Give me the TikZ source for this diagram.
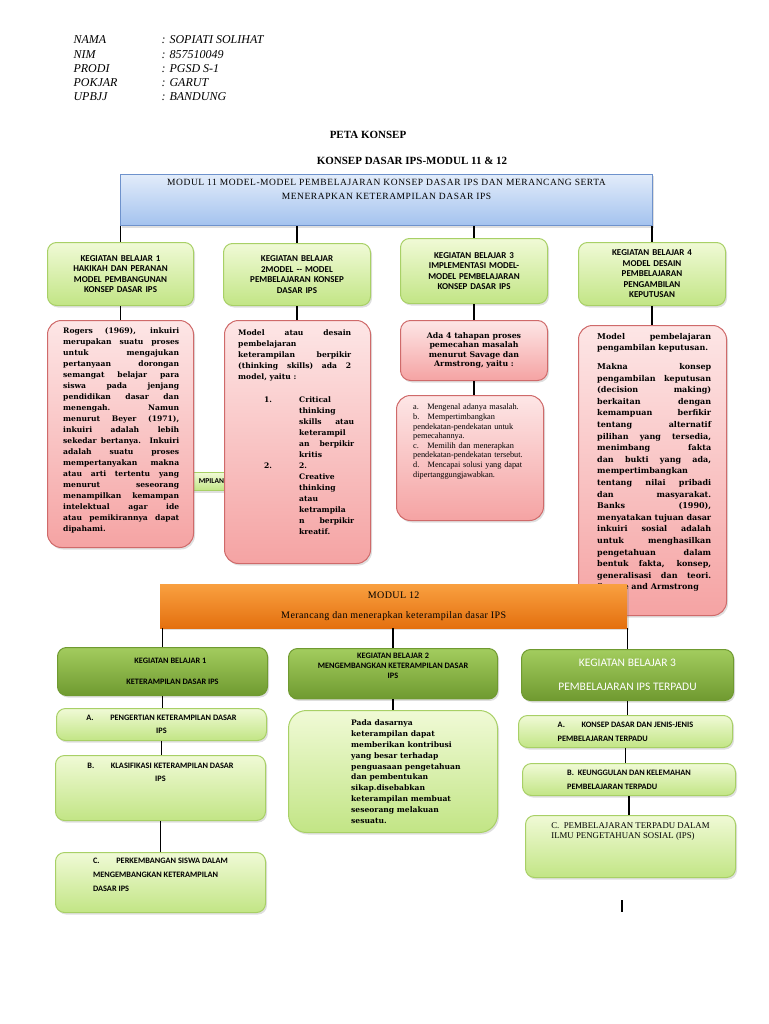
\documentclass[tikz,border=0pt]{standalone}
\usepackage{fontspec}
\setmainfont{Liberation Serif}
\newfontfamily\calfont{Carlito}
\newfontfamily\djv{DejaVu Serif}
\usetikzlibrary{shadows}
\hyphenpenalty=10000 \tolerance=10000 \emergencystretch=20pt
\definecolor{gtop}{HTML}{F0FAD6}\definecolor{gbot}{HTML}{C2E585}\definecolor{gbd}{HTML}{A8D066}
\definecolor{rtop}{HTML}{FDE6E6}\definecolor{rbot}{HTML}{F5A3A3}\definecolor{rbd}{HTML}{CF6A6A}
\definecolor{btop}{HTML}{E2ECFA}\definecolor{bbot}{HTML}{A3C2EE}\definecolor{bbd}{HTML}{6E92CC}
\definecolor{otop}{HTML}{F9A040}\definecolor{obot}{HTML}{E4700F}
\definecolor{dtop}{HTML}{A3CC5E}\definecolor{dbot}{HTML}{6F9A30}
\tikzset{
 base/.style={anchor=north west,inner sep=5pt,drop shadow={opacity=0.25,shadow xshift=1.5pt,shadow yshift=-2pt}},
 green/.style={base,rounded corners=9pt,draw=gbd,line width=1pt,top color=gtop,bottom color=gbot},
 red/.style={base,rounded corners=14pt,draw=rbd,line width=1pt,top color=rtop,bottom color=rbot},
 dgreen/.style={base,rounded corners=9pt,draw=dbot,line width=1pt,top color=dtop,bottom color=dbot},
 ln/.style={line width=1.2pt,black},
 gt/.style={font=\calfont\bfseries\fontsize{9}{10.5}\selectfont,align=center},
 rtn/.style={font=\djv\bfseries\fontsize{7.6}{11}\selectfont,anchor=north west,inner sep=0pt},
 rt/.style={rtn,align=justify},
 bt/.style={font=\calfont\bfseries\fontsize{8.3}{9}\selectfont},
}
\begin{document}
\begin{tikzpicture}[x=1pt,y=1pt]
\useasboundingbox (0,0) rectangle (768,-1024);
% header
\begin{scope}[every node/.style={anchor=west,font=\itshape\fontsize{12}{12}\selectfont}]
\node (n1) at (70,-40) {NAMA}; \node (v1) at (158,-40) {: SOPIATI SOLIHAT};
\node (n2) at (70,-55) {NIM}; \node (v2) at (158,-55) {: 857510049};
\node (n3) at (70,-69) {PRODI}; \node (v3) at (158,-69) {: PGSD S-1};
\node (n4) at (70,-83) {POKJAR}; \node (v4) at (158,-83) {: GARUT};
\node (n5) at (70,-97) {UPBJJ}; \node (v5) at (158,-97) {: BANDUNG};
\end{scope}
\node[font=\bfseries\fontsize{11}{11}\selectfont] (t1) at (368,-135) {PETA KONSEP};
\node[font=\bfseries\fontsize{11}{11}\selectfont] (t2) at (412,-161) {KONSEP DASAR IPS-MODUL 11 \& 12};
% modul 11
\node[base,draw=bbd,line width=1pt,top color=btop,bottom color=bbot,minimum width=532pt,minimum height=46pt,align=center,font=\fontsize{9.5}{15}\selectfont] (m11) at (120,-174) {\addfontfeature{LetterSpace=6}MODUL 11 MODEL-MODEL PEMBELAJARAN KONSEP DASAR IPS DAN MERANCANG SERTA\\[-1pt]\addfontfeature{LetterSpace=6}MENERAPKAN KETERAMPILAN DASAR IPS\\[6pt]};
% hidden strip
\node[green,rounded corners=0pt,minimum width=40pt,minimum height=18pt,font=\calfont\bfseries\fontsize{7.5}{8}\selectfont,inner sep=1pt] (hid) at (188,-472) {\hspace*{6pt}MPILAN};
% row 1 green
\node[green,minimum width=146pt,minimum height=63pt,gt,text width=130pt] (k1) at (47,-242) {KEGIATAN BELAJAR 1\\HAKIKAH DAN PERANAN\\MODEL PEMBANGUNAN\\KONSEP DASAR IPS};
\node[green,minimum width=147pt,minimum height=62pt,gt,text width=130pt] (k2) at (223,-243) {KEGIATAN BELAJAR\\2MODEL -- MODEL\\PEMBELAJARAN KONSEP\\DASAR IPS\\[8pt]};
\node[green,minimum width=147pt,minimum height=65pt,gt,text width=130pt] (k3) at (400,-238) {KEGIATAN BELAJAR 3\\IMPLEMENTASI MODEL-\\MODEL PEMBELAJARAN\\KONSEP DASAR IPS\\[8pt]};
\node[green,minimum width=147pt,minimum height=63pt,gt,text width=130pt] (k4) at (578,-242) {KEGIATAN BELAJAR 4\\MODEL DESAIN\\PEMBELAJARAN\\PENGAMBILAN\\KEPUTUSAN};
\foreach \k in {k1,k2,k3,k4} \draw[ln] (m11.south -| \k.north) -- (\k.north);
% red boxes
\node[red,minimum width=146pt,minimum height=227pt] (r1) at (47,-320) {};
\node[rt,text width=116pt] (r1t) at (63,-328) {Rogers (1969), inkuiri merupakan suatu proses untuk mengajukan pertanyaan dorongan semangat belajar para siswa pada jenjang pendidikan dasar dan menengah. Namun menurut Beyer (1971), inkuiri adalah lebih sekedar bertanya. Inkuiri adalah suatu proses mempertanyakan makna atau arti tertentu yang menurut seseorang menampilkan kemampan intelektual agar ide atau pemikirannya dapat dipahami.};
\node[red,minimum width=146pt,minimum height=243pt] (r2) at (224,-320) {};
\node[rt,text width=113pt] (r2t) at (238,-330) {Model atau desain pembelajaran keterampilan berpikir (thinking skills) ada 2 model, yaitu :};
\node[rtn] (r2a) at (264,-397) {1.};
\node[rtn] (r2b) at (264,-463) {2.};
\node[rt,text width=55pt] (r2c) at (299,-397) {Critical thinking skills\hfill atau keterampil an berpikir kritis\\2.\\Creative thinking atau ketrampila n berpikir kreatif.};
\node[red,minimum width=147pt,minimum height=60pt,rounded corners=10pt,font=\djv\bfseries\fontsize{7.8}{9.2}\selectfont,align=center] (r3a) at (400,-320) {Ada 4 tahapan proses\\pemecahan masalah\\menurut Savage dan\\Armstrong, yaitu :};
\node[red,minimum width=147pt,minimum height=125pt] (r3b) at (396,-395) {};
\node[font=\fontsize{8.3}{9.6}\selectfont,text width=117pt,align=left,anchor=north west,inner sep=0pt] (r3t) at (413,-404) {a.\quad Mengenal adanya masalah.\\b.\quad Mempertimbangkan pendekatan-pendekatan untuk pemecahannya.\\c.\quad Memilih dan menerapkan pendekatan-pendekatan tersebut.\\d.\quad Mencapai solusi yang dapat dipertanggungjawabkan.};
\node[red,minimum width=148pt,minimum height=290pt] (r4) at (578,-325) {};
\node[rt,text width=114pt,font=\djv\bfseries\fontsize{8}{11.6}\selectfont] (r4t) at (597,-333) {Model pembelajaran pengambilan keputusan.\\[7pt]Makna konsep pengambilan keputusan (decision making) berkaitan dengan kemampuan berfikir tentang alternatif pilihan yang tersedia, menimbang fakta dan bukti yang ada, mempertimbangkan tentang nilai pribadi dan masyarakat. Banks (1990), menyatakan tujuan dasar inkuiri sosial adalah untuk menghasilkan pengetahuan dalam bentuk fakta, konsep, generalisasi dan teori. Savage and Armstrong};
\draw[ln] (k1.south) -- (r1.north -| k1.south);
\draw[ln] (k2.south) -- (r2.north -| k2.south);
\draw[ln] (k3.south) -- (r3a.north -| k3.south);
\draw[ln] (r3a.south) -- (r3b.north -| r3a.south);
\draw[ln] (k4.south) -- (r4.north -| k4.south);
% modul 12
\node[base,draw=none,top color=otop,bottom color=obot,minimum width=467pt,minimum height=44pt,align=center,font=\fontsize{10}{12}\selectfont] (m12) at (160,-584) {\addfontfeature{LetterSpace=4}MODUL 12\\[8pt]\addfontfeature{LetterSpace=4}Merancang dan menerapkan keterampilan dasar IPS};
% row dark green
\node[dgreen,minimum width=210pt,minimum height=48pt,bt,align=left] (g1) at (57,-647) {\hspace*{28pt}KEGIATAN BELAJAR 1\\[12pt]\hspace*{20pt}KETERAMPILAN DASAR IPS};
\node[dgreen,minimum width=209pt,minimum height=49pt,bt,align=center] (g2) at (288,-648) {KEGIATAN BELAJAR 2\\[1pt]MENGEMBANGKAN KETERAMPILAN DASAR\\[1pt]IPS\\[6pt]};
\node[dgreen,minimum width=212pt,minimum height=51pt,font=\calfont\fontsize{11.5}{12}\selectfont,text=white,align=center] (g3) at (521,-649) {KEGIATAN BELAJAR 3\\[12pt]PEMBELAJARAN IPS TERPADU};
\draw[ln] (m12.south -| g1.north) -- (g1.north);
\draw[ln] (m12.south -| g2.north) -- (g2.north);
\draw[ln] (m12.south -| g3.north) -- (g3.north);
% left column
\node[green,minimum width=210pt,minimum height=32pt,bt,align=center] (a1) at (56,-708) {A.\qquad PENGERTIAN KETERAMPILAN DASAR\\[4pt]IPS};
\node[green,minimum width=210pt,minimum height=65pt,bt,align=center] (b1) at (55,-755) {B.\qquad KLASIFIKASI KETERAMPILAN DASAR\\[4pt]IPS\\[22pt]};
\node[green,minimum width=210pt,minimum height=60pt,bt,align=left] (c1) at (55,-852) {C.\qquad PERKEMBANGAN SISWA DALAM\\[5pt]MENGEMBANGKAN KETERAMPILAN\\[5pt]DASAR IPS\\[6pt]};
\draw[ln] (g1.south) -- (a1.north -| g1.south);
\draw[ln] (a1.south) -- (b1.north -| a1.south);
\draw[ln] (b1.south) -- (c1.north -| b1.south);
% middle
\node[green,rounded corners=18pt,minimum width=209pt,minimum height=122pt] (p2) at (288,-710) {};
\node[font=\djv\bfseries\fontsize{7.6}{10.8}\selectfont,align=left,anchor=north west,inner sep=0pt] (p2t) at (351,-720) {Pada dasarnya\\keterampilan dapat\\memberikan kontribusi\\yang besar terhadap\\penguasaan pengetahuan\\dan pembentukan\\sikap.disebabkan\\keterampilan membuat\\seseorang melakuan\\sesuatu.};
\draw[ln] (g2.south) -- (p2.north -| g2.south);
% right column
\node[green,minimum width=214pt,minimum height=32pt,bt,align=left] (a3) at (518,-715) {A.\qquad KONSEP DASAR DAN JENIS-JENIS\\[5pt]PEMBELAJARAN TERPADU};
\node[green,minimum width=213pt,minimum height=32pt,bt,align=left] (b3) at (522,-763) {B.\ \ KEUNGGULAN DAN KELEMAHAN\\[5pt]PEMBELAJARAN TERPADU};
\node[green,minimum width=210pt,minimum height=62pt,font=\fontsize{8.8}{9.5}\selectfont,align=left] (c3) at (525,-815) {C.\ \ PEMBELAJARAN TERPADU DALAM\\ILMU PENGETAHUAN SOSIAL (IPS)\\[22pt]};
\draw[ln] (g3.south) -- (a3.north -| g3.south);
\draw[ln] (a3.south) -- (b3.north -| a3.south);
\draw[ln] (b3.south) -- (c3.north -| b3.south);
\coordinate (m1) at (622,-900); \coordinate (m2) at (622,-912);
\draw[line width=1.5pt] (m1) -- (m2);
\end{tikzpicture}
\end{document}
